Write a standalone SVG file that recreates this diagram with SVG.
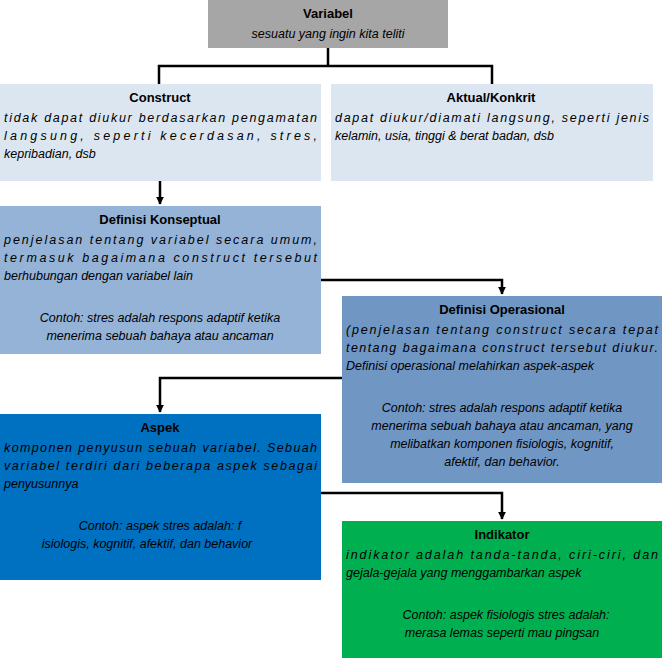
<svg xmlns="http://www.w3.org/2000/svg" width="663" height="659" viewBox="0 0 663 659">
<style>
text{font-family:"Liberation Sans","DejaVu Sans",sans-serif;font-size:12.5px;fill:#000}
.t{font-weight:bold;text-anchor:middle;font-size:13px}
.i{font-style:italic}
.c{font-style:italic;text-anchor:middle}
.ln{fill:none;stroke:#000;stroke-width:2.5}
</style>
<defs><marker id="a" viewBox="0 0 10 10" refX="9" refY="5" markerWidth="3.2" markerHeight="3.2" orient="auto"><path d="M0 0L10 5L0 10z" fill="#000"/></marker></defs>
<g id="connectors">
<path class="ln" d="M328 48V66M159 84V66H492V84"/>
<path class="ln" d="M160 181V204" marker-end="url(#a)"/>
<path class="ln" d="M321 280H502V294" marker-end="url(#a)"/>
<path class="ln" d="M342 378H160V412" marker-end="url(#a)"/>
<path class="ln" d="M321 493H502V519" marker-end="url(#a)"/>
</g>
<g id="variabel"><rect x="208" y="0" width="240" height="48" fill="#a6a6a6"/>
<text class="t" x="328" y="18">Variabel</text><text class="c" x="328" y="38">sesuatu yang ingin kita teliti</text></g>
<g id="construct"><rect x="0" y="84" width="321" height="97" fill="#dce6f1"/>
<text class="t" x="160" y="102">Construct</text>
<text class="i" x="4" y="122" textLength="313" lengthAdjust="spacing">tidak dapat diukur berdasarkan pengamatan</text>
<text class="i" x="4" y="140" textLength="313" lengthAdjust="spacing">langsung, seperti kecerdasan, stres,</text>
<text class="i" x="4" y="158">kepribadian, dsb</text></g>
<g id="aktual"><rect x="331" y="84" width="322" height="97" fill="#dce6f1"/>
<text class="t" x="491" y="102">Aktual/Konkrit</text>
<text class="i" x="335" y="122" textLength="314" lengthAdjust="spacing">dapat diukur/diamati langsung, seperti jenis</text>
<text class="i" x="335" y="140">kelamin, usia, tinggi &amp; berat badan, dsb</text></g>
<g id="konseptual"><rect x="0" y="206" width="321" height="148" fill="#95b3d7"/>
<text class="t" x="160" y="224">Definisi Konseptual</text>
<text class="i" x="4" y="244" textLength="313" lengthAdjust="spacing">penjelasan tentang variabel secara umum,</text>
<text class="i" x="4" y="262" textLength="313" lengthAdjust="spacing">termasuk bagaimana construct tersebut</text>
<text class="i" x="4" y="280">berhubungan dengan variabel lain</text>
<text class="c" x="160" y="322">Contoh: stres adalah respons adaptif ketika</text>
<text class="c" x="160" y="340">menerima sebuah bahaya atau ancaman</text></g>
<g id="operasional"><rect x="342" y="296" width="320" height="187" fill="#7096c4"/>
<text class="t" x="502" y="314">Definisi Operasional</text>
<text class="i" x="346" y="334" textLength="312" lengthAdjust="spacing">(penjelasan tentang construct secara tepat</text>
<text class="i" x="346" y="352" textLength="312" lengthAdjust="spacing">tentang bagaimana construct tersebut diukur.</text>
<text class="i" x="346" y="370">Definisi operasional melahirkan aspek-aspek</text>
<text class="c" x="502" y="412">Contoh: stres adalah respons adaptif ketika</text>
<text class="c" x="502" y="430">menerima sebuah bahaya atau ancaman, yang</text>
<text class="c" x="502" y="448">melibatkan komponen fisiologis, kognitif,</text>
<text class="c" x="502" y="466">afektif, dan behavior.</text></g>
<g id="aspek"><rect x="0" y="414" width="321" height="166" fill="#0070c0"/>
<text class="t" x="160" y="432">Aspek</text>
<text class="i" x="4" y="452" textLength="313" lengthAdjust="spacing">komponen penyusun sebuah variabel. Sebuah</text>
<text class="i" x="4" y="470" textLength="313" lengthAdjust="spacing">variabel terdiri dari beberapa aspek sebagai</text>
<text class="i" x="4" y="488">penyusunnya</text>
<text class="c" x="160" y="530">Contoh: aspek stres adalah: f</text>
<text class="c" x="147" y="548">isiologis, kognitif, afektif, dan behavior</text></g>
<g id="indikator"><rect x="342" y="521" width="320" height="137" fill="#00b050"/>
<text class="t" x="502" y="539">Indikator</text>
<text class="i" x="346" y="559" textLength="312" lengthAdjust="spacing">indikator adalah tanda-tanda, ciri-ciri, dan</text>
<text class="i" x="346" y="577">gejala-gejala yang menggambarkan aspek</text>
<text class="c" x="506" y="619">Contoh: aspek fisiologis stres adalah:</text>
<text class="c" x="502" y="637">merasa lemas seperti mau pingsan</text></g>
</svg>
